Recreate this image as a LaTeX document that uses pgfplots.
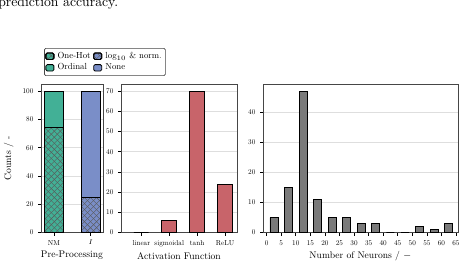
\documentclass[border=0pt]{standalone}
\usepackage{fontspec}
\setmainfont{lmroman10-regular.otf}[
  ItalicFont=lmroman10-italic.otf,
  BoldFont=lmroman10-bold.otf,
  BoldItalicFont=lmroman10-bolditalic.otf]
\usepackage{pgfplots}
\pgfplotsset{compat=1.18}
\usetikzlibrary{patterns.meta}

\definecolor{tealc}{RGB}{66,176,150}
\definecolor{bluec}{RGB}{122,142,200}
\definecolor{redc}{RGB}{200,100,106}
\definecolor{grayc}{RGB}{122,122,122}
\definecolor{gridc}{RGB}{222,222,222}
\definecolor{framec}{RGB}{70,70,70}

\tikzset{
  xhatch/.style={
    postaction={pattern={Lines[angle=45,distance=3.2pt,line width=0.3pt]},pattern color=#1},
    postaction={pattern={Lines[angle=-45,distance=3.2pt,line width=0.3pt]},pattern color=#1}},
}

\pgfplotsset{
  panel/.style={
    scale only axis,
    height=111.5pt,
    ymin=0,
    axis line style={framec,line width=0.6pt},
    tick align=outside,
    xtick pos=bottom, ytick pos=left,
    major tick length=2.2pt,
    tick style={black,line width=0.5pt},
    ymajorgrids,
    grid style={gridc,line width=0.5pt},
    tick label style={font=\fontsize{5.4}{6}\selectfont},
    label style={font=\fontsize{7.2}{8}\selectfont},
    /pgf/number format/assume math mode=true,
    xlabel shift=-2.5pt,
  },
  barsty/.style={draw=black,line width=0.6pt,fill=#1},
}

\begin{document}
\begin{tikzpicture}
\useasboundingbox (0,0) rectangle (355.5pt,207pt);
\begin{scope}
  \clip (0,0) rectangle (355.5pt,207pt);
  \node[anchor=base west,inner sep=0pt,font=\fontsize{10.3}{12}\selectfont] at (-1.5pt,202.2pt) {prediction accuracy.};
\end{scope}

% Pre-processing of the inputs
\begin{axis}[panel,
  at={(30.75pt,32.5pt)}, anchor=south west,
  width=46.5pt,
  ymax=105,
  xmin=-0.35, xmax=1.33,
  xtick={0,1}, xticklabels={NM,$I$},
  ytick={0,20,40,60,80,100},
  ylabel={Counts / -},
  xlabel={Pre-Processing},
  ybar stacked, bar width=0.5,
  legend columns=2,
  legend cell align=left,
  legend style={at={(rel axis cs:0.05,1.054)},anchor=south west,
    draw=framec,line width=0.5pt,rounded corners=1pt,
    font=\fontsize{6.6}{7}\selectfont,
    inner sep=0.8pt,row sep=-1.5pt,column sep=0.5pt,
    /tikz/every even column/.append style={column sep=0pt}},
  legend image code/.code={\draw[#1] (0pt,-2.4pt) rectangle (6pt,2.4pt);},
]
\addplot[barsty=tealc,xhatch=black!65] coordinates {(0,74) (1,0)};
\addplot[barsty=bluec,xhatch=black!65] coordinates {(0,0) (1,25)};
\addplot[barsty=tealc] coordinates {(0,26) (1,0)};
\addplot[barsty=bluec] coordinates {(0,0) (1,75)};
\legend{One-Hot,$\log_{10}$ \& norm.,Ordinal,None}
\end{axis}

% Activation functions
\begin{axis}[panel,
  at={(90.75pt,32.5pt)}, anchor=south west,
  width=87pt,
  ymax=73.5,
  xmin=-0.73, xmax=3.43,
  xtick={0,1,2,3}, xticklabels={linear,sigmoidal,tanh,ReLU},
  ytick={0,10,20,30,40,50,60,70},
  xlabel={Activation Function},
  ybar, bar width=0.53,
]
\addplot[barsty=redc] coordinates {(0,0) (1,6) (2,70) (3,24)};
\end{axis}

% Hidden layer size histogram
\begin{axis}[panel,
  at={(197.25pt,32.5pt)}, anchor=south west,
  width=146.25pt,
  ymax=49.4,
  xmin=-1.27, xmax=65.7,
  xtick={0,5,...,65},
  ytick={0,10,20,30,40},
  xlabel={Number of Neurons / $-$},
  ybar, bar width=2.75,
]
\addplot[barsty=grayc] coordinates {
  (2.5,5) (7.5,15) (12.5,47) (17.5,11) (22.5,5) (27.5,5) (32.5,3)
  (37.5,3) (42.5,0) (47.5,0) (52.5,2) (57.5,1) (62.5,3)};
\end{axis}
\end{tikzpicture}
\end{document}
